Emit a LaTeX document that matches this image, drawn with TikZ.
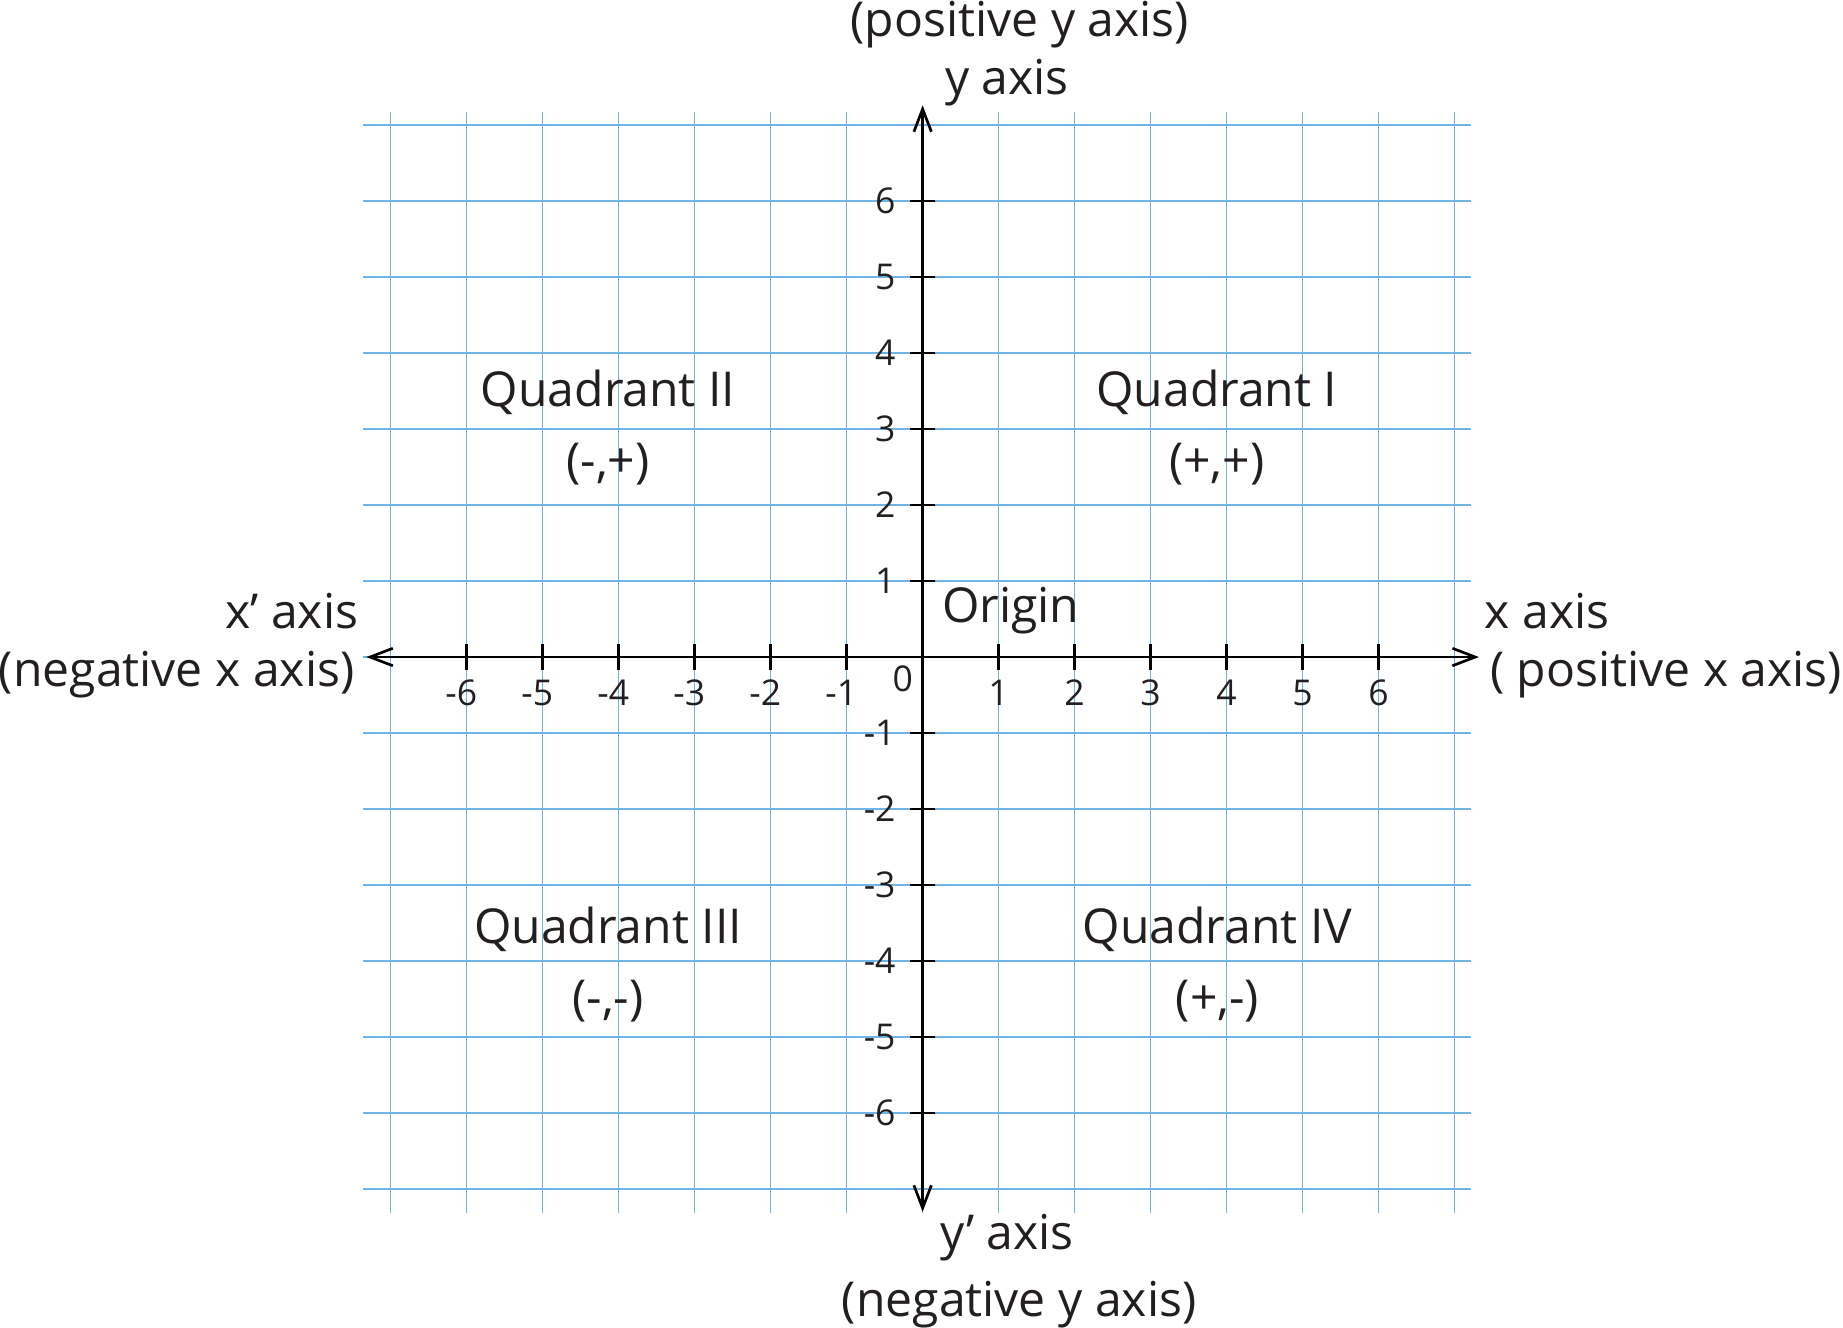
\documentclass[tikz,border=0pt]{standalone}
\usepackage{fontspec}
\setmainfont{Open Sans}
\usetikzlibrary{arrows.meta}

\definecolor{gridblue}{RGB}{112,180,230}
\definecolor{inkgray}{RGB}{35,31,32}

\tikzset{
  gridline/.style={gridblue,line width=.5pt},
  axisline/.style={black,line width=1pt,
    {Straight Barb[length=3mm,width=2.3mm]}-{Straight Barb[length=3mm,width=2.3mm]}},
  tickmark/.style={black,line width=1pt},
  ticklabel/.style={inkgray,inner sep=0pt,font=\fontsize{13.3}{15}\selectfont},
  biglabel/.style={inkgray,inner sep=0pt,font=\fontsize{18}{22}\selectfont},
}

\begin{document}
\begin{tikzpicture}
        \useasboundingbox (-12.14,-8.816) rectangle (12.11,8.645);

        \coordinate (center) at (0,0);
        \coordinate (xleft)  at (-7.32,0);
        \coordinate (xright) at (7.32,0);
        \coordinate (ybot)   at (0,-7.30);
        \coordinate (ytop)   at (0,7.26);

        % grid
        \foreach \k in {-7,...,7} {
          \draw [gridline] (-7.36,\k) -- (7.22,\k);
          \draw [gridline] (\k,-7.32) -- (\k,7.17);
        }

        % axes
        \draw [axisline] (xleft) -- (xright);
        \draw [axisline] (ybot) -- (ytop);

        % ticks on x axis
        \foreach \x in {-6,...,-1,1,2,...,6}
          \draw [tickmark] (\x,-0.165) -- (\x,0.165);
        \foreach \x in {-6,...,-1}
          \node [ticklabel,anchor=base] (xlab\x) at (\x-0.07,-0.64) {\x};
        \foreach \x in {1,...,6}
          \node [ticklabel,anchor=base] (xlab\x) at (\x,-0.64) {\x};

        % ticks on y axis
        \foreach \y in {-6,...,-1,1,2,...,6} {
          \draw [tickmark] (-0.165,\y) -- (0.165,\y);
          \node [ticklabel,anchor=east] (ylab\y) at (-0.35,\y) {\y};
        }
        \node [ticklabel,anchor=base east] (zero) at (-0.12,-0.46) {0};

        % origin
        \node [biglabel,anchor=base west] (origin) at (0.25,0.45) {Origin};

        % quadrants
        \node [biglabel,anchor=base] (quadI)   at (3.87,3.29)  {Quadrant I};
        \node [biglabel,anchor=base] (quadII)  at (-4.14,3.29) {Quadrant II};
        \node [biglabel,anchor=base] (quadIII) at (-4.14,-3.77) {Quadrant III};
        \node [biglabel,anchor=base] (quadIV)  at (3.88,-3.77) {Quadrant IV};
        \node [biglabel,anchor=base] (signI)   at ([yshift=-0.93cm]quadI.base)   {(+,+)};
        \node [biglabel,anchor=base] (signII)  at ([yshift=-0.93cm]quadII.base)  {(-,+)};
        \node [biglabel,anchor=base] (signIII) at ([yshift=-0.93cm]quadIII.base) {(-,-)};
        \node [biglabel,anchor=base] (signIV)  at ([yshift=-0.93cm]quadIV.base)  {(+,-)};

        % axis names
        \node [biglabel,anchor=base west] (xname)  at (7.39,0.38)   {x axis};
        \node [biglabel,anchor=base west] (xpos)   at (7.46,-0.39)  {( positive x axis)};
        \node [biglabel,anchor=base east] (xpname) at (-7.42,0.38)  {x’ axis};
        \node [biglabel,anchor=base east] (xneg)   at (-7.47,-0.39) {(negative x axis)};
        \node [biglabel,anchor=base] (yname)  at (1.11,7.40)  {y axis};
        \node [biglabel,anchor=base] (ypos)   at (1.28,8.17)  {(positive y axis)};
        \node [biglabel,anchor=base] (ypname) at (1.11,-7.80) {y’ axis};
        \node [biglabel,anchor=base] (yneg)   at (1.27,-8.68) {(negative y axis)};

\end{tikzpicture}
\end{document}
